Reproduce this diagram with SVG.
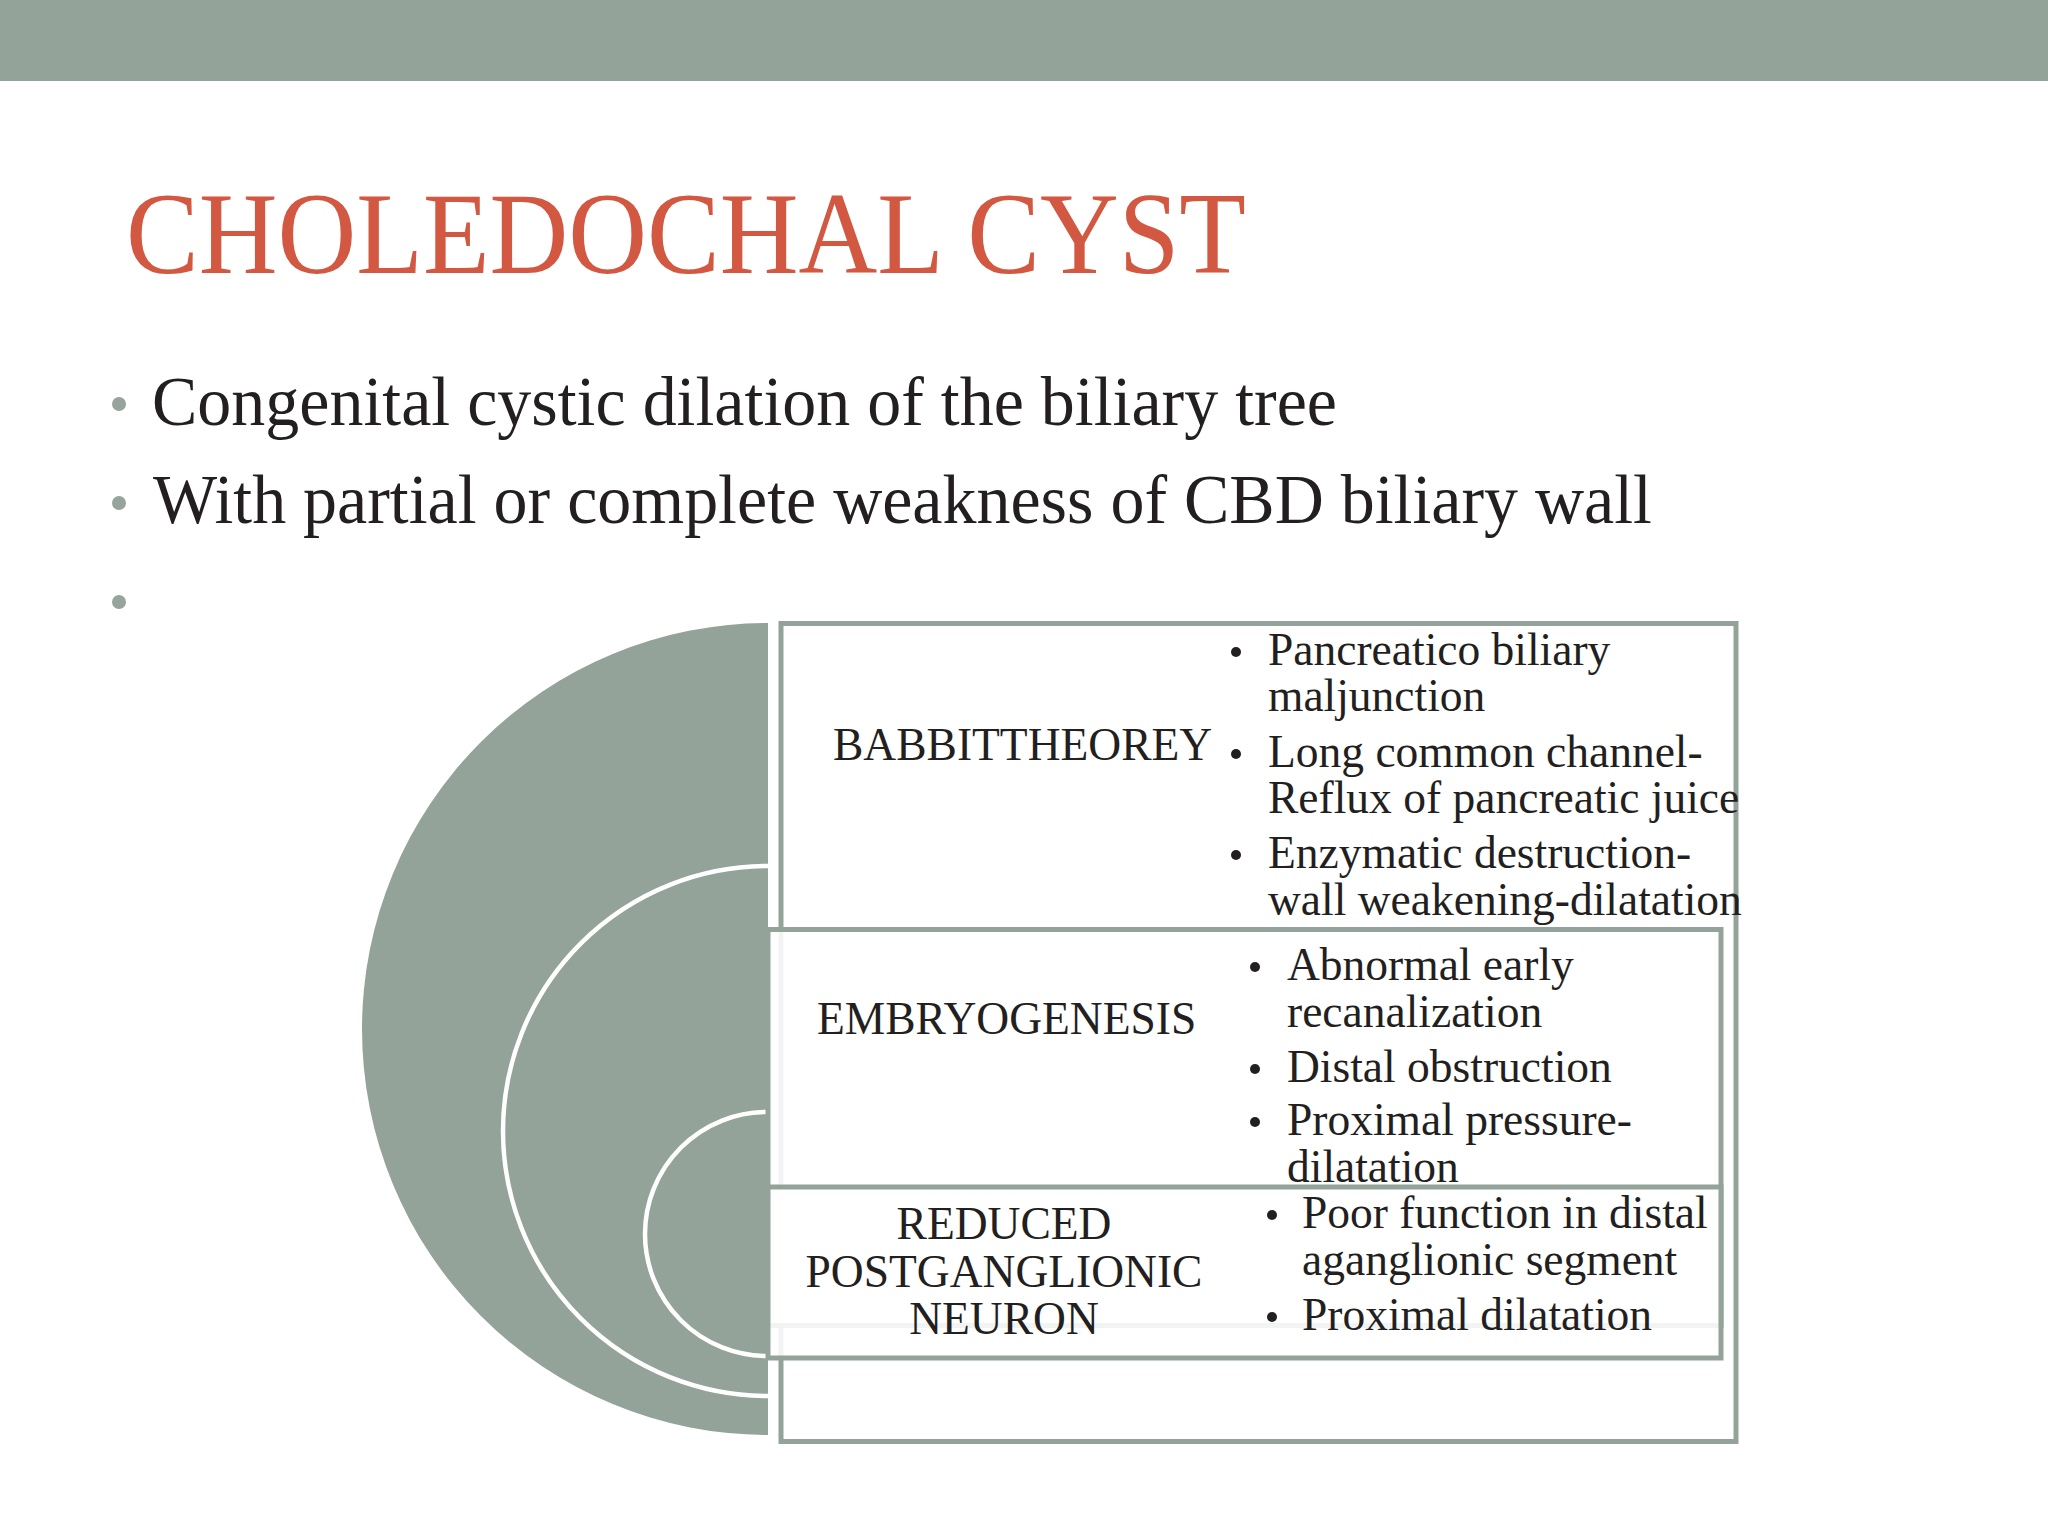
<svg xmlns="http://www.w3.org/2000/svg" width="2048" height="1536" viewBox="0 0 2048 1536">
<style>
  .t{font-family:"Liberation Serif","Times New Roman",serif;fill:#231f20}
  .title{font-family:"Liberation Serif","Times New Roman",serif;fill:#d35841}
  .b{font-size:45.5px}
  .box{fill:#ffffff;stroke:#93a39a;stroke-width:5}
  .boxt{fill:#ffffff;fill-opacity:0.88;stroke:#93a39a;stroke-width:5}
  .arc{fill:#93a39a;stroke:#ffffff;stroke-width:4.5}
  .gb{fill:#97a39d}
  .db{fill:#231f20}
</style>
<rect x="0" y="0" width="2048" height="81" fill="#93a39a"/>
<text class="title" x="126" y="273" font-size="116" textLength="1120" lengthAdjust="spacingAndGlyphs">CHOLEDOCHAL CYST</text>
<g id="intro">
  <circle class="gb" cx="119" cy="404" r="7"/>
  <text class="t" x="152" y="425" font-size="70" textLength="1185" lengthAdjust="spacingAndGlyphs">Congenital cystic dilation of the biliary tree</text>
  <circle class="gb" cx="119" cy="503" r="7"/>
  <text class="t" x="153" y="523" font-size="70" textLength="1499" lengthAdjust="spacingAndGlyphs">With partial or complete weakness of CBD biliary wall</text>
  <circle class="gb" cx="119" cy="602" r="7"/>
</g>
<g id="target">
  <path d="M768,623 A406,406 0 0 0 768,1435 Z" fill="#93a39a"/>
  <path class="arc" d="M768,866 A265,265 0 0 0 768,1396"/>
  <path class="arc" d="M767,1112 A122,122 0 0 0 767,1356"/>
</g>
<g id="node-babbitt">
  <rect class="box" x="781" y="623.5" width="955" height="818"/>
</g>
<g id="node-embryogenesis">
  <rect class="boxt" x="768" y="929.5" width="953" height="396"/>
</g>
<g id="node-reduced">
  <rect class="boxt" x="768" y="1187" width="953" height="171" stroke-width="6"/>
</g>
<g id="connectors"></g>
<g id="text-babbitt" class="t b">
  <text x="833" y="760">BABBITTHEOREY</text>
  <circle class="db" cx="1236" cy="652" r="5"/>
  <text x="1268" y="665">Pancreatico biliary</text>
  <text x="1268" y="711">maljunction</text>
  <circle class="db" cx="1236" cy="754" r="5"/>
  <text x="1268" y="767">Long common channel-</text>
  <text x="1268" y="813">Reflux of pancreatic juice</text>
  <circle class="db" cx="1236" cy="855" r="5"/>
  <text x="1268" y="868">Enzymatic destruction-</text>
  <text x="1268" y="915">wall weakening-dilatation</text>
</g>
<g id="text-embryogenesis" class="t b">
  <text x="817" y="1034">EMBRYOGENESIS</text>
  <circle class="db" cx="1255" cy="967" r="5"/>
  <text x="1287" y="980">Abnormal early</text>
  <text x="1287" y="1027">recanalization</text>
  <circle class="db" cx="1255" cy="1069" r="5"/>
  <text x="1287" y="1082">Distal obstruction</text>
  <circle class="db" cx="1255" cy="1122" r="5"/>
  <text x="1287" y="1135">Proximal pressure-</text>
  <text x="1287" y="1182">dilatation</text>
</g>
<g id="text-reduced" class="t b">
  <text x="1004" y="1239" text-anchor="middle">REDUCED</text>
  <text x="1004" y="1287" text-anchor="middle">POSTGANGLIONIC</text>
  <text x="1004" y="1334" text-anchor="middle">NEURON</text>
  <circle class="db" cx="1272" cy="1215" r="5"/>
  <text x="1302" y="1228">Poor function in distal</text>
  <text x="1302" y="1275">aganglionic segment</text>
  <circle class="db" cx="1272" cy="1317" r="5"/>
  <text x="1302" y="1330">Proximal dilatation</text>
</g>
</svg>
